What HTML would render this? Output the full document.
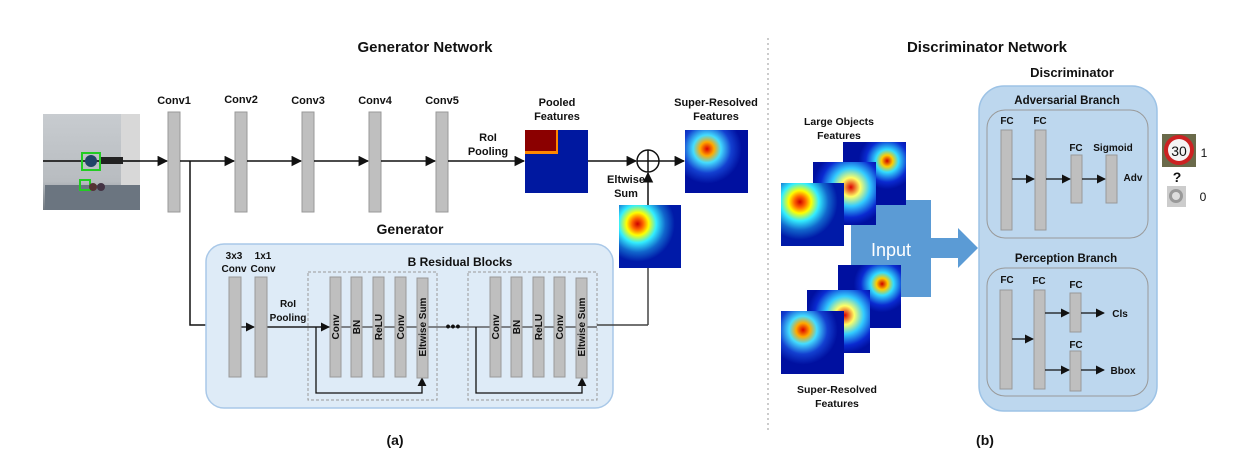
<!DOCTYPE html>
<html><head><meta charset="utf-8"><style>
body{margin:0;background:#fff}
svg text{font-family:"Liberation Sans",sans-serif;font-weight:bold;fill:#111}
</style></head><body>
<svg width="1240" height="467" viewBox="0 0 1240 467" xmlns="http://www.w3.org/2000/svg">
<defs>
<marker id="a" viewBox="0 0 10 10" refX="9" refY="5" markerWidth="7" markerHeight="7" orient="auto"><path d="M0,0L10,5L0,10z" fill="#111"/></marker>
<radialGradient id="h2" cx="0.3" cy="0.3" r="0.6"><stop offset="0" stop-color="#c00"/><stop offset="0.15" stop-color="#f60"/><stop offset="0.3" stop-color="#ff0"/><stop offset="0.5" stop-color="#3ef"/><stop offset="0.75" stop-color="#16c"/><stop offset="1" stop-color="#001aa8"/></radialGradient>
<radialGradient id="h3" cx="0.35" cy="0.3" r="0.55"><stop offset="0" stop-color="#d00"/><stop offset="0.2" stop-color="#fa0"/><stop offset="0.4" stop-color="#4df"/><stop offset="0.7" stop-color="#1340d0"/><stop offset="1" stop-color="#0010a0"/></radialGradient>
<radialGradient id="h4" cx="0.6" cy="0.4" r="0.6"><stop offset="0" stop-color="#d00"/><stop offset="0.25" stop-color="#ff6"/><stop offset="0.5" stop-color="#3cf"/><stop offset="0.8" stop-color="#0a2ad0"/><stop offset="1" stop-color="#0010a0"/></radialGradient>
<radialGradient id="h5" cx="0.7" cy="0.3" r="0.45"><stop offset="0" stop-color="#c00"/><stop offset="0.2" stop-color="#fc0"/><stop offset="0.4" stop-color="#3df"/><stop offset="0.75" stop-color="#0a2ad0"/><stop offset="1" stop-color="#0010a0"/></radialGradient>
<linearGradient id="sky" x1="0" y1="0" x2="0" y2="1"><stop offset="0" stop-color="#c8ccd0"/><stop offset="0.7" stop-color="#b8bcc0"/><stop offset="1" stop-color="#707880"/></linearGradient>
</defs>

<text x="425" y="52" font-size="15" text-anchor="middle">Generator Network</text>
<text x="987" y="52" font-size="15" text-anchor="middle">Discriminator Network</text>
<line x1="768" y1="38" x2="768" y2="432" stroke="#999" stroke-dasharray="2,3"/>

<rect x="43" y="114" width="97" height="96" fill="url(#sky)"/>
<rect x="121" y="114" width="19" height="90" fill="#d8d8d8"/>
<rect x="45" y="185" width="95" height="25" fill="#6b7580"/>
<line x1="43" y1="161" x2="140" y2="161" stroke="#333" stroke-width="2"/>
<rect x="82" y="153" width="18" height="17" fill="none" stroke="#2c2" stroke-width="2"/>
<circle cx="91" cy="161" r="6" fill="#246"/>
<rect x="101" y="157" width="22" height="7" fill="#222"/>
<rect x="80" y="180" width="10" height="10" fill="none" stroke="#2c2" stroke-width="2"/>
<circle cx="93" cy="187" r="4" fill="#533"/><circle cx="101" cy="187" r="4" fill="#434"/>

<g fill="#bfbfbf" stroke="#999">
<rect x="168" y="112" width="12" height="100"/><rect x="235" y="112" width="12" height="100"/>
<rect x="302" y="112" width="12" height="100"/><rect x="369" y="112" width="12" height="100"/>
<rect x="436" y="112" width="12" height="100"/>
</g>
<g font-size="11" text-anchor="middle">
<text x="174" y="104">Conv1</text><text x="241" y="103">Conv2</text><text x="308" y="104">Conv3</text><text x="375" y="104">Conv4</text><text x="442" y="104">Conv5</text>
<text x="488" y="141">RoI</text><text x="488" y="155">Pooling</text>
<text x="557" y="106">Pooled</text><text x="557" y="120">Features</text>
<text x="716" y="106">Super-Resolved</text><text x="716" y="120">Features</text>
<text x="626" y="183">Eltwise</text><text x="626" y="197">Sum</text>
</g>
<g stroke="#111" stroke-width="1.5" fill="none" marker-end="url(#a)">
<line x1="140" y1="161" x2="167" y2="161"/><line x1="180" y1="161" x2="234" y2="161"/>
<line x1="247" y1="161" x2="301" y2="161"/><line x1="314" y1="161" x2="368" y2="161"/>
<line x1="381" y1="161" x2="435" y2="161"/><line x1="448" y1="161" x2="524" y2="161"/>
<line x1="588" y1="161" x2="636" y2="161"/><line x1="659" y1="161" x2="684" y2="161"/>
<polyline points="648,268 648,173"/>
<polyline points="190,161 190,325 228,325"/>
</g>
<rect x="525" y="130" width="63" height="63" fill="#0018a0"/>
<rect x="525" y="130" width="33" height="24" fill="#ff8800"/>
<rect x="525" y="130" width="31" height="21" fill="#8b0000"/>
<rect x="685" y="130" width="63" height="63" fill="url(#h3)"/>
<rect x="619" y="205" width="62" height="63" fill="url(#h2)"/>
<circle cx="648" cy="161" r="11" fill="#fff" stroke="#111" stroke-width="1.5"/>
<line x1="637" y1="161" x2="659" y2="161" stroke="#111" stroke-width="1.5"/>
<line x1="648" y1="150" x2="648" y2="172" stroke="#111" stroke-width="1.5"/>

<text x="410" y="234" font-size="14" text-anchor="middle">Generator</text>
<rect x="206" y="244" width="407" height="164" rx="18" fill="#deebf7" stroke="#a9c8e8" stroke-width="1.5"/>
<g font-size="10" text-anchor="middle">
<text x="234" y="259">3x3</text><text x="234" y="272">Conv</text>
<text x="263" y="259">1x1</text><text x="263" y="272">Conv</text>
<text x="288" y="307">RoI</text><text x="288" y="321">Pooling</text>
</g>
<text x="460" y="266" font-size="12" text-anchor="middle">B Residual Blocks</text>
<rect x="308" y="272" width="129" height="128" fill="none" stroke="#999" stroke-dasharray="3,2"/>
<rect x="468" y="272" width="129" height="128" fill="none" stroke="#999" stroke-dasharray="3,2"/>
<line x1="267" y1="327" x2="597" y2="327" stroke="#444" stroke-width="1.2"/>
<line x1="597" y1="325" x2="648" y2="325" stroke="#444" stroke-width="1.5"/>
<line x1="648" y1="325" x2="648" y2="268" stroke="#444" stroke-width="1.5"/>
<g stroke="#111" stroke-width="1.3" fill="none" marker-end="url(#a)">
<line x1="241" y1="327" x2="254" y2="327"/><line x1="267" y1="327" x2="329" y2="327"/>
<polyline points="316,327 316,393 422,393 422,378"/>
<polyline points="476,327 476,393 582,393 582,378"/>
</g>
<g fill="#bfbfbf" stroke="#999">
<rect x="229" y="277" width="12" height="100"/><rect x="255" y="277" width="12" height="100"/>
<rect x="330" y="277" width="11" height="100"/><rect x="351" y="277" width="11" height="100"/><rect x="373" y="277" width="11" height="100"/><rect x="395" y="277" width="11" height="100"/><rect x="417" y="278" width="11" height="100"/>
<rect x="490" y="277" width="11" height="100"/><rect x="511" y="277" width="11" height="100"/><rect x="533" y="277" width="11" height="100"/><rect x="554" y="277" width="11" height="100"/><rect x="576" y="278" width="11" height="100"/>
</g>
<text x="453" y="331" font-size="14" text-anchor="middle">•••</text>
<g font-size="10" text-anchor="middle">
<text transform="translate(339,327) rotate(-90)">Conv</text><text transform="translate(360,327) rotate(-90)">BN</text><text transform="translate(382,327) rotate(-90)">ReLU</text><text transform="translate(404,327) rotate(-90)">Conv</text><text transform="translate(426,327) rotate(-90)">Eltwise Sum</text>
<text transform="translate(499,327) rotate(-90)">Conv</text><text transform="translate(520,327) rotate(-90)">BN</text><text transform="translate(542,327) rotate(-90)">ReLU</text><text transform="translate(563,327) rotate(-90)">Conv</text><text transform="translate(585,327) rotate(-90)">Eltwise Sum</text>
</g>
<text x="395" y="445" font-size="14" text-anchor="middle">(a)</text>
<text x="985" y="445" font-size="14" text-anchor="middle">(b)</text>

<g font-size="10.5" text-anchor="middle">
<text x="839" y="125">Large Objects</text><text x="839" y="139">Features</text>
<text x="837" y="393">Super-Resolved</text><text x="837" y="407">Features</text>
</g>
<rect x="851" y="200" width="80" height="97" fill="#5b9bd5"/>
<polygon points="931,238 958,238 958,228 978,248 958,268 958,258 931,258" fill="#5b9bd5"/>
<text x="891" y="256" font-size="18" text-anchor="middle" style="fill:#fff;font-weight:normal">Input</text>
<rect x="843" y="142" width="63" height="63" fill="url(#h5)"/>
<rect x="813" y="162" width="63" height="63" fill="url(#h4)"/>
<rect x="781" y="183" width="63" height="63" fill="url(#h2)"/>
<rect x="838" y="265" width="63" height="63" fill="url(#h5)"/>
<rect x="807" y="290" width="63" height="63" fill="url(#h4)"/>
<rect x="781" y="311" width="63" height="63" fill="url(#h3)"/>

<text x="1072" y="77" font-size="13" text-anchor="middle">Discriminator</text>
<rect x="979" y="86" width="178" height="325" rx="25" fill="#bdd7ee" stroke="#9dc3e6" stroke-width="1.5"/>
<text x="1067" y="104" font-size="11.5" text-anchor="middle">Adversarial Branch</text>
<rect x="987" y="110" width="161" height="128" rx="18" fill="none" stroke="#999"/>
<text x="1066" y="262" font-size="11.5" text-anchor="middle">Perception Branch</text>
<rect x="987" y="268" width="161" height="128" rx="18" fill="none" stroke="#999"/>
<g fill="#bfbfbf" stroke="#999">
<rect x="1001" y="130" width="11" height="100"/><rect x="1035" y="130" width="11" height="100"/>
<rect x="1071" y="155" width="11" height="48"/><rect x="1106" y="155" width="11" height="48"/>
<rect x="1000" y="290" width="12" height="99"/><rect x="1034" y="290" width="11" height="99"/>
<rect x="1070" y="293" width="11" height="39"/><rect x="1070" y="351" width="11" height="40"/>
</g>
<g stroke="#111" stroke-width="1.3" marker-end="url(#a)">
<line x1="1012" y1="179" x2="1034" y2="179"/><line x1="1046" y1="179" x2="1070" y2="179"/><line x1="1082" y1="179" x2="1105" y2="179"/>
<line x1="1012" y1="339" x2="1033" y2="339"/><line x1="1045" y1="313" x2="1069" y2="313"/><line x1="1045" y1="370" x2="1069" y2="370"/>
<line x1="1081" y1="313" x2="1104" y2="313"/><line x1="1081" y1="370" x2="1104" y2="370"/>
</g>
<g font-size="10" text-anchor="middle">
<text x="1007" y="124">FC</text><text x="1040" y="124">FC</text><text x="1076" y="151">FC</text><text x="1113" y="151">Sigmoid</text>
<text x="1007" y="283">FC</text><text x="1039" y="284">FC</text><text x="1076" y="288">FC</text><text x="1076" y="348">FC</text>
<text x="1133" y="181">Adv</text><text x="1120" y="317">Cls</text><text x="1123" y="374">Bbox</text>
</g>
<rect x="1162" y="134" width="34" height="33" fill="#6a6a4a"/>
<circle cx="1179" cy="150" r="15" fill="#c22"/><circle cx="1179" cy="150" r="11" fill="#f4f4f4"/>
<text x="1179" y="156" font-size="14" text-anchor="middle" style="font-weight:normal">30</text>
<text x="1204" y="157" font-size="12" text-anchor="middle" style="font-weight:normal">1</text>
<text x="1177" y="182" font-size="14" text-anchor="middle">?</text>
<rect x="1167" y="186" width="19" height="21" fill="#ccc"/><circle cx="1176" cy="196" r="7" fill="#999"/><circle cx="1176" cy="196" r="4" fill="#ddd"/>
<text x="1203" y="201" font-size="12" text-anchor="middle" style="font-weight:normal">0</text>
</svg>
</body></html>
